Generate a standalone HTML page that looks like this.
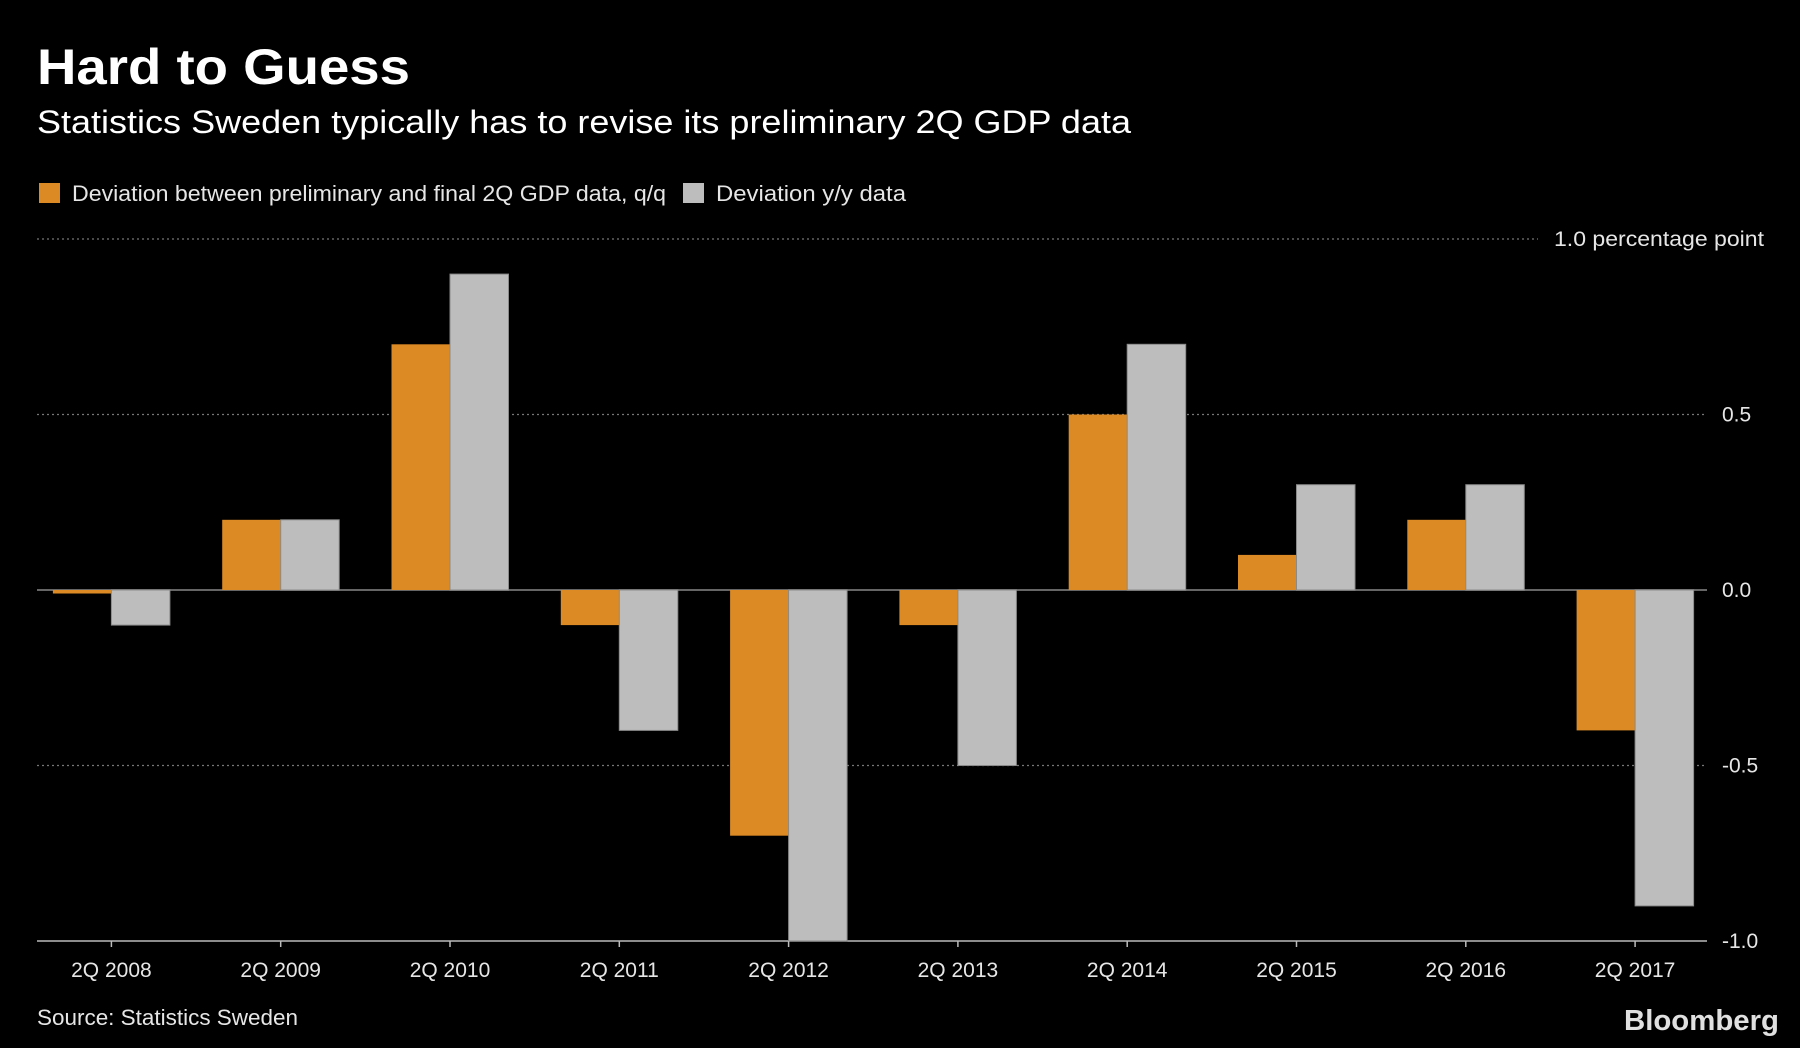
<!DOCTYPE html>
<html><head><meta charset="utf-8"><style>
html,body{margin:0;padding:0;background:#000;}
svg{display:block;font-family:"Liberation Sans",sans-serif;}
</style></head><body>
<svg id="chart" width="1800" height="1048" viewBox="0 0 1800 1048">
<rect width="1800" height="1048" fill="#000"/>
<text x="37" y="84" fill="#fff" font-size="50" font-weight="bold" textLength="373" lengthAdjust="spacingAndGlyphs">Hard to Guess</text>
<text x="37" y="133" fill="#fff" font-size="32" textLength="1094" lengthAdjust="spacingAndGlyphs">Statistics Sweden typically has to revise its preliminary 2Q GDP data</text>
<g>
<rect x="39" y="183" width="21" height="20" fill="#db8a24"/>
<text x="72" y="201" fill="#e6e6e6" font-size="22" textLength="594" lengthAdjust="spacingAndGlyphs">Deviation between preliminary and final 2Q GDP data, q/q</text>
<rect x="683" y="183" width="21" height="20" fill="#bdbdbd"/>
<text x="716" y="201" fill="#e6e6e6" font-size="22" textLength="190" lengthAdjust="spacingAndGlyphs">Deviation y/y data</text>
</g>
<g id="grid"></g>
<g id="bars"></g>
<g id="axis"></g>
<text x="37" y="1025" fill="#e6e6e6" font-size="22" textLength="261" lengthAdjust="spacingAndGlyphs">Source: Statistics Sweden</text>
<text x="1779" y="1030" fill="#e0e0e0" font-size="29" font-weight="bold" text-anchor="end" textLength="155" lengthAdjust="spacingAndGlyphs">Bloomberg</text>
</svg>
<script>
const categories = ["2Q 2008","2Q 2009","2Q 2010","2Q 2011","2Q 2012","2Q 2013","2Q 2014","2Q 2015","2Q 2016","2Q 2017"];
const qqValues = [-0.01, 0.2, 0.7, -0.1, -0.7, -0.1, 0.5, 0.1, 0.2, -0.4];
const yyValues = [-0.1, 0.2, 0.9, -0.4, -1.0, -0.5, 0.7, 0.3, 0.3, -0.9];
const yTicks = [1.0, 0.5, 0.0, -0.5, -1.0];
const yTickLabels = ["1.0 percentage point", "0.5", "0.0", "-0.5", "-1.0"];

const NS = "http://www.w3.org/2000/svg";
const plotLeft = 37, plotRight = 1707;
const y0px = 590, y1px = 239;
function yScale(v){ return y0px - v * (y0px - y1px); }
const firstCenter = 111.4, step = 169.3, barW = 58.5;
function xScale(i){ return firstCenter + i * step; }
function mk(tag, attrs, parent){ const e = document.createElementNS(NS, tag); for (const k in attrs) e.setAttribute(k, attrs[k]); parent.appendChild(e); return e; }

const grid = document.getElementById('grid');
yTicks.forEach((t, i) => {
  const y = yScale(t);
  const isZero = t === 0, isBottom = t === -1.0;
  const x2 = i === 0 ? 1538 : plotRight;
  const ln = mk('line', {x1: plotLeft, x2: x2, y1: y, y2: y, stroke: isZero ? '#666' : (isBottom ? '#bbb' : '#777'), 'stroke-width': isZero ? 2 : (isBottom ? 1.5 : 1.3), 'stroke-dasharray': (isZero || isBottom) ? 'none' : '2,3'}, grid);
  
  
  const attrs = {x: i === 0 ? 1554 : 1722, y: y + 7, fill: '#e6e6e6', 'font-size': 21};
  if (i === 0) { attrs.textLength = 210; attrs.lengthAdjust = 'spacingAndGlyphs'; }
  const tx = mk('text', attrs, grid);
  tx.textContent = yTickLabels[i];
  
  
});

const bars = document.getElementById('bars');
categories.forEach((c, i) => {
  const cx = xScale(i);
  const q = qqValues[i], yv = yyValues[i];
  const qy = Math.min(yScale(q), yScale(0)), qh = Math.max(Math.abs(yScale(q) - yScale(0)), 1.5);
  const r1 = mk('rect', {x: cx - barW, y: qy, width: barW, height: qh, fill: '#db8a24'}, bars);
  
  
  const gy = Math.min(yScale(yv), yScale(0)), gh = Math.abs(yScale(yv) - yScale(0));
  const r2 = mk('rect', {x: cx, y: gy, width: barW, height: gh, fill: '#bdbdbd', stroke: '#8a8a8a', 'stroke-width': 1}, bars);
  
  
});

const axis = document.getElementById('axis');
categories.forEach((c, i) => {
  const cx = xScale(i);
  const tk = mk('line', {x1: cx, x2: cx, y1: yScale(-1), y2: yScale(-1) + 6, stroke: '#bbb', 'stroke-width': 1.5}, axis);
  
  
  const t = mk('text', {x: cx, y: 977, fill: '#e6e6e6', 'font-size': 21, 'text-anchor': 'middle'}, axis);
  t.textContent = c;
  
  
});
</script>
</body></html>
